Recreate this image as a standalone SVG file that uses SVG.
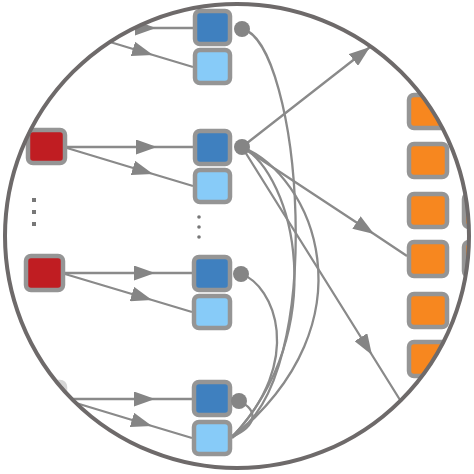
<svg xmlns="http://www.w3.org/2000/svg" width="474" height="474" viewBox="0 0 474 474">
<defs>
<clipPath id="lens"><circle cx="237" cy="236" r="232"/></clipPath>
<marker id="arr" markerUnits="userSpaceOnUse" markerWidth="21" markerHeight="15" refX="21" refY="7.5" orient="auto"><path d="M0,0 L21,7.5 L0,15 z" fill="#858585"/></marker>
</defs>
<style>
.e{fill:none;stroke:#8a8a8a;stroke-width:2.3}
.c{fill:none;stroke:#8a8a8a;stroke-width:2.3}
.n rect{stroke:#959595;stroke-width:4.5}
.db{fill:#3f80bf}
.lb{fill:#87cbf8}
.rd{fill:#c01d22}
.or{fill:#f7871f}
.port{fill:#858585}
.dot{fill:#777}
</style>
<rect width="474" height="474" fill="#fff"/>
<g clip-path="url(#lens)">
<g id="connectors">
<path class="e" marker-mid="url(#arr)" d="M67,28 L156,28 L193,28"/>
<path class="e" marker-mid="url(#arr)" d="M67,29 L153,55 L193,67"/>
<path class="e" marker-mid="url(#arr)" d="M67,147 L157,147 L193,147"/>
<path class="e" marker-mid="url(#arr)" d="M67,148 L153,174 L193,186"/>
<path class="e" marker-mid="url(#arr)" d="M65,273 L155,273 L192,273"/>
<path class="e" marker-mid="url(#arr)" d="M65,274 L152,300 L192,312"/>
<path class="e" marker-mid="url(#arr)" d="M66,399 L155,399 L192,399"/>
<path class="e" marker-mid="url(#arr)" d="M66,400 L152,426 L192,438"/>
<path class="e" marker-mid="url(#arr)" d="M242,147 L370,47 L420,8"/>
<path class="e" marker-mid="url(#arr)" d="M242,147 L374,234 L407,256"/>
<path class="e" marker-mid="url(#arr)" d="M242,147 L372,355 L420,432"/>
<path class="c" d="M242,29 C300,40 330,380 232,436"/>
<path class="c" d="M242,147 C312,175 376,320 232,438"/>
<path class="c" d="M242,147 C294,175 332,330 232,437"/>
<path class="c" d="M241,274 C274,285 306,360 232,437"/>
<path class="c" d="M239,401 C258,410 258,425 232,437"/>
</g>
<g id="src4" class="n"><rect x="28" y="382" width="37" height="33" rx="5" fill="#e8e8e8" style="stroke:#d6d6d6"/></g>
<g id="red1" class="n"><rect class="rd" x="28" y="130" width="37" height="33" rx="5"/></g>
<g id="red2" class="n"><rect class="rd" x="26" y="256" width="37" height="34" rx="5"/></g>
<g id="reddots"><rect class="dot" x="32" y="198" width="4" height="4"/><rect class="dot" x="32" y="210" width="4" height="4"/><rect class="dot" x="32" y="222" width="4" height="4"/></g>
<g id="db1" class="n"><rect class="db" x="195" y="11" width="35" height="33" rx="5"/></g>
<g id="lb1" class="n"><rect class="lb" x="195" y="50" width="35" height="33" rx="5"/></g>
<g id="db2" class="n"><rect class="db" x="195" y="131" width="35" height="33" rx="5"/></g>
<g id="lb2" class="n"><rect class="lb" x="195" y="170" width="35" height="32" rx="5"/></g>
<g id="bluedots"><circle class="dot" cx="199" cy="217" r="1.8"/><circle class="dot" cx="199" cy="227" r="1.8"/><circle class="dot" cx="199" cy="237" r="1.8"/></g>
<g id="db3" class="n"><rect class="db" x="194" y="257" width="36" height="33" rx="5"/></g>
<g id="lb3" class="n"><rect class="lb" x="194" y="296" width="36" height="32" rx="5"/></g>
<g id="db4" class="n"><rect class="db" x="194" y="382" width="36" height="33" rx="5"/></g>
<g id="lb4" class="n"><rect class="lb" x="194" y="422" width="36" height="32" rx="5"/></g>
<g id="port1"><circle class="port" cx="242" cy="29" r="8"/></g>
<g id="port2"><circle class="port" cx="242" cy="147" r="8"/></g>
<g id="port3"><circle class="port" cx="241" cy="274" r="8"/></g>
<g id="port4"><circle class="port" cx="239" cy="401" r="8"/></g>
<g id="or1" class="n"><rect class="or" x="409" y="95" width="38" height="33" rx="5"/></g>
<g id="or2" class="n"><rect class="or" x="409" y="144" width="38" height="33" rx="5"/></g>
<g id="or3" class="n"><rect class="or" x="409" y="194" width="38" height="33" rx="5"/></g>
<g id="or4" class="n"><rect class="or" x="409" y="242" width="38" height="34" rx="5"/></g>
<g id="or5" class="n"><rect class="or" x="409" y="294" width="38" height="33" rx="5"/></g>
<g id="or6" class="n"><rect class="or" x="409" y="342" width="38" height="34" rx="5"/></g>
<g id="or7" class="n"><rect class="or" x="464" y="194" width="38" height="33" rx="5"/></g>
<g id="or8" class="n"><rect class="or" x="464" y="242" width="38" height="34" rx="5"/></g>
</g>
<circle cx="237" cy="236" r="232" fill="none" stroke="#6e6a6a" stroke-width="4"/>
</svg>
